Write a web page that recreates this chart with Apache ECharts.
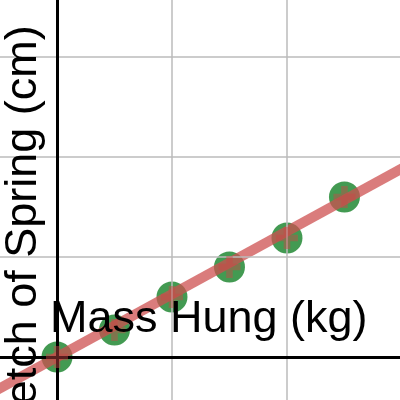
<!DOCTYPE html>
<html>
<head>
<meta charset="utf-8">
<script src="https://cdn.jsdelivr.net/npm/echarts@6/dist/echarts.min.js"></script>
<style>html,body{margin:0;padding:0;background:#fff}#chart{width:400px;height:400px}</style>
</head>
<body>
<div id="chart"></div>
<script>
const massKg = [0, 0.5, 1, 1.5, 2, 2.5]
const stretchCm = [0, 0.27, 0.6, 0.9, 1.19, 1.6]
const fitX = [-1, 3.5]
const fitY = [-0.63, 2.2]
const gridX = [1, 2]
const gridY = [1, 2, 3]

const chart = echarts.init(document.getElementById('chart'))
const pts = massKg.map((x, i) => [x, stretchCm[i]])
const cross = 'path://M0,3.5H10V6.5H0Z M3.5,0H6.5V10H3.5Z'

chart.setOption({
  animation: false,
  grid: { left: 0, right: 0, top: 0, bottom: 0 },
  xAxis: {
    type: 'value', min: -0.4957, max: 2.983,
    axisLine: { show: false }, axisTick: { show: false }, axisLabel: { show: false },
    splitLine: { show: false }
  },
  yAxis: {
    type: 'value', min: -0.43, max: 3.57,
    axisLine: { show: false }, axisTick: { show: false }, axisLabel: { show: false },
    splitLine: { show: false }
  },
  series: [
    {
      type: 'line', data: [], silent: true,
      markLine: {
        symbol: 'none', silent: true, label: { show: false },
        lineStyle: { color: '#bbb', width: 1.5, type: 'solid' },
        data: gridX.map(v => ({ xAxis: v })).concat(gridY.map(v => ({ yAxis: v })))
      }
    },
    {
      type: 'line', data: [], silent: true, z: 2,
      markLine: {
        symbol: 'none', silent: true, label: { show: false },
        lineStyle: { color: '#000', width: 3, type: 'solid' },
        data: [{ xAxis: 0 }, { yAxis: 0 }]
      }
    },
    {
      type: 'scatter', data: pts, symbolSize: 31, z: 3,
      itemStyle: { color: '#2f8f3f', opacity: 0.9 }
    },
    {
      type: 'line', data: fitX.map((x, i) => [x, fitY[i]]), showSymbol: false, z: 4,
      lineStyle: { color: 'rgba(205,80,80,0.75)', width: 10 }
    },
    {
      type: 'scatter', data: pts, symbol: cross, symbolSize: 22, z: 5,
      itemStyle: { color: 'rgba(205,70,70,0.55)' }
    }
  ],
  graphic: [
    {
      type: 'text', left: 50, top: 297, z: 10,
      style: { text: 'Mass Hung (kg)', font: '45px "Liberation Sans", Arial', fill: '#000' }
    },
    {
      type: 'text', x: 24, y: 244, rotation: Math.PI / 2, z: 10,
      style: { text: 'Stretch of Spring (cm)', font: '45px "Liberation Sans", Arial', fill: '#000', align: 'center', verticalAlign: 'middle' }
    }
  ]
})
</script>
</body>
</html>
